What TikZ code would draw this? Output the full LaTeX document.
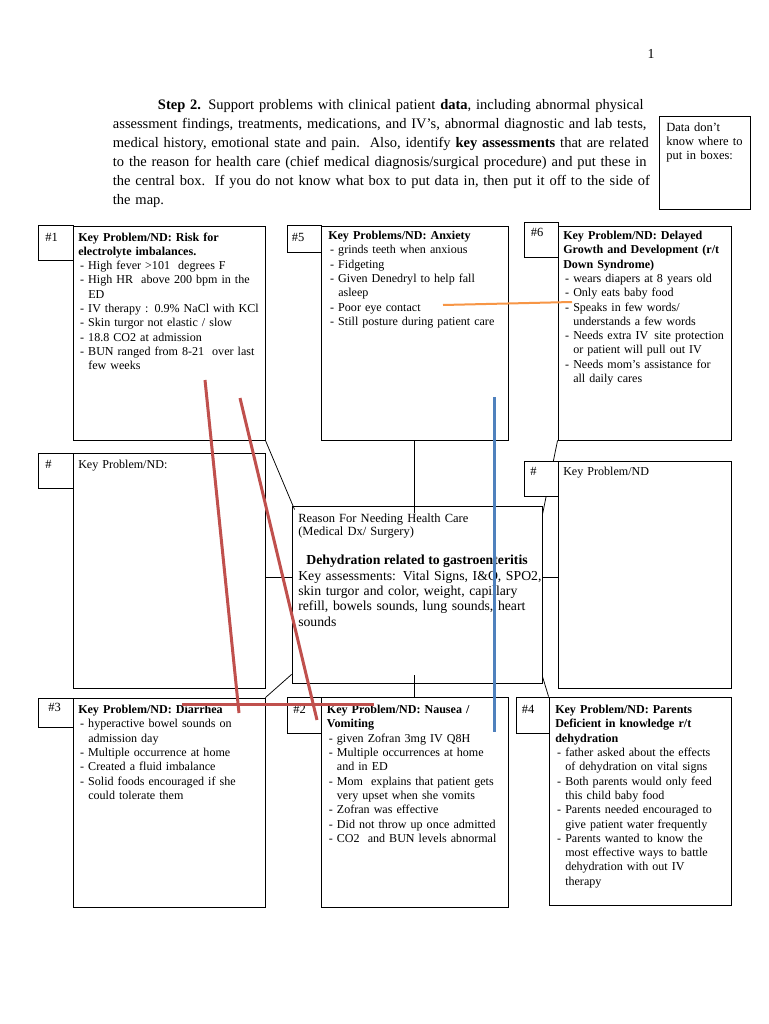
\documentclass[tikz,border=0pt]{standalone}
\usepackage{fontspec}
\setmainfont{Liberation Serif}
\usetikzlibrary{fit,calc}
\definecolor{myred}{HTML}{C0504D}
\definecolor{myblue}{HTML}{4F81BD}
\definecolor{myorange}{HTML}{F79646}
\newcommand\dashitem{\par\noindent\hangindent=8pt\hangafter=1\makebox[8pt][l]{\hspace{1.5pt}-}}
\begin{document}
\begin{tikzpicture}[x=0.8pt,y=-0.8pt,
  bx/.style={draw, line width=0.7pt, inner sep=0pt, fill=white},
  conn/.style={line width=0.6pt},
  txt/.style={anchor=base west, inner sep=0pt, text width=250pt, align=left, font=\fontsize{9.65}{11.45}\selectfont},
  lbl/.style={anchor=base west, inner sep=0pt, font=\fontsize{10}{12}\selectfont},
  redl/.style={draw=myred, line width=2.4pt},
  bluel/.style={draw=myblue, line width=2.4pt},
  orl/.style={draw=myorange, line width=1.6pt}]
\fill[white] (0,0) rectangle (768,1024);
\useasboundingbox (0,0) rectangle (768,1024);

% page number and header
\node[anchor=base, inner sep=0pt, font=\fontsize{11}{13}\selectfont] (pg) at (651,59) {1};
\node[anchor=base west, inner sep=0pt, text width=500pt, align=left, font=\fontsize{11.6}{15.2}\selectfont] (hdr) at (112.7,110) {%
\hspace*{36pt}\textbf{Step 2.} Support problems with clinical patient \textbf{data}, including abnormal physical\\
assessment findings, treatments, medications, and IV’s, abnormal diagnostic and lab tests,\\
medical history, emotional state and pain.\ \ Also, identify \textbf{key assessments} that are related\\
to the reason for health care (chief medical diagnosis/surgical procedure) and put these in\\
the central box.\ \ If you do not know what box to put data in, then put it off to the side of\\
the map.};

% side box
\node[bx, fit={(659,116) (750,209)}] (db) {};
\node[anchor=base west, inner sep=0pt, text width=100pt, align=left, font=\fontsize{10}{10.9}\selectfont] (dbt) at (666,132) {Data don’t\\know where to\\put in boxes:};

% main boxes
\node[bx, fit={(73,226) (265,440)}] (b1) {};
\node[bx, fit={(321,226) (508,440)}] (b5) {};
\node[bx, fit={(558,226) (731,440)}] (b6) {};
\node[bx, fit={(73,453) (265,688)}] (bm) {};
\node[bx, fit={(292,506) (542,683)}] (c) {};
\node[bx, fit={(558,461) (731,688)}] (br) {};
\node[bx, fit={(73,698) (265,907)}] (b3) {};
\node[bx, fit={(321,697) (508,907)}] (b2) {};
\node[bx, fit={(549,697) (731,905)}] (b4) {};

% connectors
\coordinate (hy) at (0,577);
\draw[conn] (b5.south) -- ($(b5.south |- c.north)+(0,7)$);
\draw[conn] (b1.south east) -- ($(c.north west)+(3,4)$);
\draw[conn] (hy -| bm.east) -- (hy -| c.west);
\draw[conn] (hy -| c.east) -- (hy -| br.west);
\draw[conn] (b6.south west) -- ($(c.north east)+(0,9)$);
\draw[conn] ($(c.south west)+(0,-9)$) -- (b3.north east);
\draw[conn] ($(b2.north |- c.south)+(0,-8)$) -- (b2.north);
\draw[conn] ($(c.south east)+(0,-7)$) -- (b4.north west);

% label boxes
\node[bx, fit={(38,225) (73,260)}] (l1) {};
\node[bx, fit={(287,225) (321,252)}] (l5) {};
\node[bx, fit={(524,222) (558,257)}] (l6) {};
\node[bx, fit={(38,453) (73,488)}] (lm) {};
\node[bx, fit={(524,461) (558,496)}] (lr) {};
\node[bx, fit={(38,698) (73,727)}] (l3) {};
\node[bx, fit={(287,697) (321,733)}] (l2) {};
\node[bx, fit={(516,697) (549,733)}] (l4) {};

\node[lbl] (n1) at (45,241) {\#1};
\node[lbl] (n5) at (291.7,241) {\#5};
\node[lbl] (n6) at (530.7,236) {\#6};
\node[lbl] (nm) at (45,468) {\#};
\node[lbl] (nr) at (530,475) {\#};
\node[lbl] (n3) at (48,711) {\#3};
\node[lbl] (n2) at (293,713.5) {\#2};
\node[lbl] (n4) at (521.7,713.5) {\#4};

% box texts
\node[txt] (t1) at (78,241) {\textbf{Key Problem/ND: Risk for}\newline\textbf{electrolyte imbalances.}
\dashitem High fever >101\ \ degrees F
\dashitem High HR\ \ above 200 bpm in the\newline ED
\dashitem IV therapy : 0.9\% NaCl with KCl
\dashitem Skin turgor not elastic / slow
\dashitem 18.8 CO2 at admission
\dashitem BUN ranged from 8-21\ \ over last\newline few weeks\par};

\node[txt] (t5) at (328,239.5) {\textbf{Key Problems/ND: Anxiety}
\dashitem grinds teeth when anxious
\dashitem Fidgeting
\dashitem Given Denedryl to help fall\newline asleep
\dashitem Poor eye contact
\dashitem Still posture during patient care\par};

\node[txt] (t6) at (563,239.5) {\textbf{Key Problem/ND: Delayed}\newline\textbf{Growth and Development (r/t}\newline\textbf{Down Syndrome)}
\dashitem wears diapers at 8 years old
\dashitem Only eats baby food
\dashitem Speaks in few words/\newline understands a few words
\dashitem Needs extra IV\,\ site protection\newline or patient will pull out IV
\dashitem Needs mom’s assistance for\newline all daily cares\par};

\node[txt] (tm) at (78,468) {Key Problem/ND:};
\node[txt] (tr) at (563,475) {Key Problem/ND};

\node[txt] (t3) at (78,713.5) {\textbf{Key Problem/ND: Diarrhea}
\dashitem hyperactive bowel sounds on\newline admission day
\dashitem Multiple occurrence at home
\dashitem Created a fluid imbalance
\dashitem Solid foods encouraged if she\newline could tolerate them\par};

\node[txt] (t2) at (326.7,713.5) {\textbf{Key Problem/ND: Nausea /}\newline\textbf{Vomiting}
\dashitem given Zofran 3mg IV Q8H
\dashitem Multiple occurrences at home\newline and in ED
\dashitem Mom\ \ explains that patient gets\newline very upset when she vomits
\dashitem Zofran was effective
\dashitem Did not throw up once admitted
\dashitem CO2\ \ and BUN levels abnormal\par};

\node[txt] (t4) at (555,713.5) {\textbf{Key Problem/ND: Parents}\newline\textbf{Deficient in knowledge r/t}\newline\textbf{dehydration}
\dashitem father asked about the effects\newline of dehydration on vital signs
\dashitem Both parents would only feed\newline this child baby food
\dashitem Parents needed encouraged to\newline give patient water frequently
\dashitem Parents wanted to know the\newline most effective ways to battle\newline dehydration with out IV\newline therapy\par};

% central box text
\node[anchor=base west, inner sep=0pt, text width=200pt, align=left, font=\fontsize{10}{10.8}\selectfont] (ct) at (298,522) {Reason For Needing Health Care\\(Medical Dx/ Surgery)};
\node[anchor=base, inner sep=0pt, font=\fontsize{11}{12.3}\selectfont\bfseries] (cd) at (417,564) {Dehydration related to gastroenteritis};
\node[anchor=base west, inner sep=0pt, text width=240pt, align=left, font=\fontsize{11}{12.3}\selectfont] (ck) at (298,580) {Key assessments: Vital Signs, I\&O, SPO2,\\skin turgor and color, weight, capillary\\refill, bowels sounds, lung sounds, heart\\sounds};

% annotation strokes
\coordinate (r1a) at (205,380); \coordinate (r1b) at (239,713);
\coordinate (r2a) at (240,398); \coordinate (r2b) at (317,720);
\coordinate (rha) at (182,704); \coordinate (rhb) at (374,704);
\coordinate (oa) at (443,305); \coordinate (ob) at (572,302);
\coordinate (ba) at (494,397); \coordinate (bb) at (494,732);
\draw[redl] (r1a) -- (r1b);
\draw[redl] (r2a) -- (r2b);
\draw[redl] (rha) -- (rhb);
\draw[orl] (oa) -- (ob);
\draw[bluel] (ba) -- (bb);
\end{tikzpicture}
\end{document}
